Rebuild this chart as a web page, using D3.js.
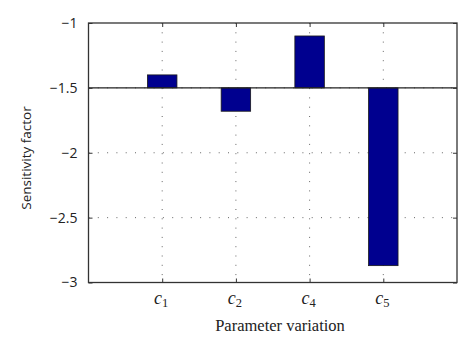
<!DOCTYPE html>
<html><head><meta charset="utf-8">
<script src="https://cdn.jsdelivr.net/npm/d3@7"></script>
<style>body{margin:0;background:#fff}</style>
</head><body>
<svg id="c" width="474" height="351"></svg>
<script>
const categories = ["1","2","4","5"];
const values = [-1.40, -1.68, -1.10, -2.87];
const yTicks = [-1, -1.5, -2, -2.5, -3];
const yTickLabels = ["\u22121", "\u22121.5", "\u22122", "\u22122.5", "\u22123"];
const baseline = -1.5;

const svg = d3.select("#c");
const L = 88.5, R = 457, T = 23, B = 282.5;
const x = d3.scaleLinear().domain([0, 5]).range([L, R]);
const y = d3.scaleLinear().domain([-3, -1]).range([B, T]);
const pos = categories.map((c, i) => i + 1);
const bw = 0.4;
const grid = "#555";

// grid
const g = svg.append("g");
yTicks.filter(v => v !== -1 && v !== -3).forEach(v => {
  g.append("line").attr("x1", L).attr("x2", R).attr("y1", y(v)).attr("y2", y(v))
   .attr("stroke", grid).attr("stroke-width", 0.9).attr("stroke-dasharray", "1,8.3");
});
pos.forEach(p => {
  g.append("line").attr("x1", x(p)).attr("x2", x(p)).attr("y1", T).attr("y2", B)
   .attr("stroke", grid).attr("stroke-width", 0.9).attr("stroke-dasharray", "1,8.3");
});

// bars
svg.append("g").selectAll("rect").data(values).join("rect")
  .attr("x", (d, i) => x(pos[i] - bw / 2))
  .attr("width", x(bw) - x(0))
  .attr("y", d => y(Math.max(d, baseline)))
  .attr("height", d => Math.abs(y(d) - y(baseline)))
  .attr("fill", "#00008f").attr("stroke", "#1a1a1a").attr("stroke-width", 0.8);

// baseline
svg.append("line").attr("x1", L).attr("x2", R).attr("y1", y(baseline)).attr("y2", y(baseline))
  .attr("stroke", "#222").attr("stroke-width", 1.1);

// axes
const ax = svg.append("g");
const yAxis = d3.axisLeft(y).tickValues(yTicks).tickSize(-4).tickFormat((d, i) => yTickLabels[i]).tickPadding(11);
const ya = ax.append("g").attr("transform", `translate(${L},0)`).call(yAxis);
ya.select(".domain").remove();
ya.selectAll("line").attr("stroke", "#333");
ya.selectAll("text").attr("font-family", "'Open Sans', 'DejaVu Sans', sans-serif").attr("font-size", 14).attr("fill", "#222");

const yR = ax.append("g").attr("transform", `translate(${R},0)`).call(d3.axisRight(y).tickValues(yTicks).tickSize(-4).tickFormat(""));
yR.select(".domain").remove(); yR.selectAll("line").attr("stroke", "#333");

const xAxis = d3.axisBottom(x).tickValues(pos).tickSize(-4).tickFormat("");
const xa = ax.append("g").attr("transform", `translate(0,${B})`).call(xAxis);
xa.select(".domain").remove(); xa.selectAll("line").attr("stroke", "#333");
const xt = ax.append("g").attr("transform", `translate(0,${T})`).call(d3.axisTop(x).tickValues(pos).tickSize(-4).tickFormat(""));
xt.select(".domain").remove(); xt.selectAll("line").attr("stroke", "#333");

// frame
svg.append("rect").attr("x", L).attr("y", T).attr("width", R - L).attr("height", B - T)
  .attr("fill", "none").attr("stroke", "#333").attr("stroke-width", 1.3);

// x tick labels
categories.forEach((c, i) => {
  const t = svg.append("text").attr("x", x(pos[i]) - 1).attr("y", 304)
    .attr("text-anchor", "middle").attr("font-family", "'Liberation Serif', 'DejaVu Serif', serif")
    .attr("fill", "#222");
  t.append("tspan").attr("font-style", "italic").attr("font-size", 18).text("c");
  t.append("tspan").attr("font-size", 12.5).attr("dy", 3).text(c);
});

// axis titles
svg.append("text").attr("x", 280).attr("y", 331).attr("text-anchor", "middle")
  .attr("font-family", "'Liberation Serif', 'DejaVu Serif', serif").attr("font-size", 16.5)
  .attr("fill", "#222").text("Parameter variation");
svg.append("text").attr("transform", "translate(31,158) rotate(-90)").attr("text-anchor", "middle")
  .attr("font-family", "'Open Sans', 'DejaVu Sans', sans-serif").attr("font-size", 13.5)
  .attr("fill", "#222").text("Sensitivity factor");
</script>
</body></html>
